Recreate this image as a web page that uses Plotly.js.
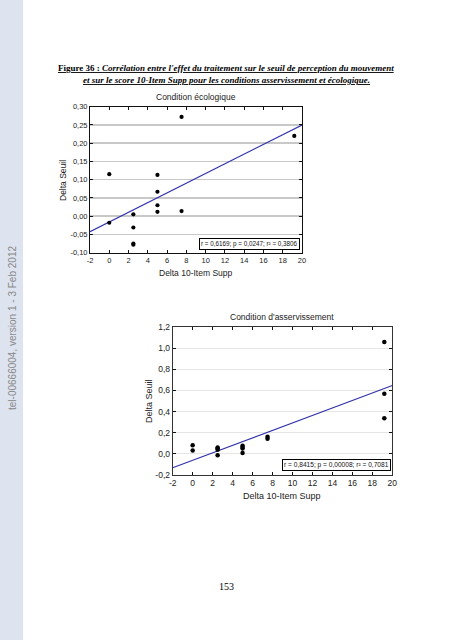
<!DOCTYPE html>
<html><head><meta charset="utf-8">
<script src="https://cdn.plot.ly/plotly-3.0.1.min.js"></script>
<style>html,body{margin:0;padding:0;background:#fff;}#chart{width:453px;height:640px;}</style>
</head><body><div id="chart"></div>
<script>
// ---- data ----
const ecoX = [0, 0, 2.5, 2.5, 2.5, 2.5, 5, 5, 5, 5, 7.5, 7.5, 19.2];
const ecoY = [0.115, -0.018, 0.005, -0.031, -0.075, -0.078, 0.113, 0.067, 0.030, 0.012, 0.272, 0.014, 0.220];
const asvX = [0, 0, 2.5, 2.5, 2.5, 2.5, 5, 5, 5, 5, 7.5, 7.5, 19.2, 19.2, 19.2];
const asvY = [0.080, 0.030, 0.058, 0.048, 0.036, -0.015, 0.076, 0.064, 0.048, 0.006, 0.160, 0.142, 1.06, 0.57, 0.335];

const xTickVals = [-2, 0, 2, 4, 6, 8, 10, 12, 14, 16, 18, 20];
const xTickText = ['-2', '0', '2', '4', '6', '8', '10', '12', '14', '16', '18', '20'];
const ecoYTickVals = [-0.10, -0.05, 0, 0.05, 0.10, 0.15, 0.20, 0.25, 0.30];
const ecoYTickText = ['-0,10', '-0,05', '0,00', '0,05', '0,10', '0,15', '0,20', '0,25', '0,30'];
const asvYTickVals = [-0.2, 0, 0.2, 0.4, 0.6, 0.8, 1.0, 1.2];
const asvYTickText = ['-0,2', '0,0', '0,2', '0,4', '0,6', '0,8', '1,0', '1,2'];

const ecoTitle = 'Condition écologique';
const asvTitle = "Condition d'asservissement";
const ecoStats = 'r = 0,6169; p = 0,0247; r² = 0,3806';
const asvStats = 'r = 0,8415; p = 0,00008; r² = 0,7081';
const xLabel = 'Delta 10-Item Supp';
const yLabel = 'Delta Seuil';
const figLine1 = '<u>Figure 36 : <i>Corrélation entre l\'effet du traitement sur le seuil de perception du mouvement</i></u>';
const figLine2 = '<u><i>et sur le score 10-Item Supp pour les conditions asservissement et écologique.</i></u>';
const sideText = 'tel-00666004, version 1 - 3 Feb 2012';
const pageNum = '153';
const xRange = [-2, 20];

// least squares fit
function fit(xs, ys) {
  const n = xs.length;
  const mx = xs.reduce((a, b) => a + b, 0) / n;
  const my = ys.reduce((a, b) => a + b, 0) / n;
  let sxy = 0, sxx = 0;
  for (let i = 0; i < n; i++) { sxy += (xs[i] - mx) * (ys[i] - my); sxx += (xs[i] - mx) ** 2; }
  const b = sxy / sxx, a = my - b * mx;
  return {x: xRange.slice(), y: xRange.map(v => a + b * v)};
}
const ecoFit = fit(ecoX, ecoY);
const asvFit = fit(asvX, asvY);

const W = 453, H = 640;
const px = v => v / W;
const py = v => 1 - v / H;

const lineCol = '#3333aa';
const traces = [
  {x: ecoFit.x, y: ecoFit.y, mode: 'lines', line: {color: lineCol, width: 1.1}, xaxis: 'x', yaxis: 'y', hoverinfo: 'skip'},
  {x: ecoX, y: ecoY, mode: 'markers', marker: {color: '#000', size: 4.2}, xaxis: 'x', yaxis: 'y'},
  {x: asvFit.x, y: asvFit.y, mode: 'lines', line: {color: lineCol, width: 1.1}, xaxis: 'x2', yaxis: 'y2', hoverinfo: 'skip'},
  {x: asvX, y: asvY, mode: 'markers', marker: {color: '#000', size: 4.5}, xaxis: 'x2', yaxis: 'y2'}
];

const tickFont1 = {family: 'Liberation Sans, Arial, sans-serif', size: 7.5, color: '#222'};
const tickFont2 = {family: 'Liberation Sans, Arial, sans-serif', size: 8.5, color: '#222'};
const axisCommon = {
  showline: true, linecolor: '#111', linewidth: 1, mirror: 'ticks',
  ticks: 'inside', ticklen: 3, tickcolor: '#111', tickwidth: 1,
  zeroline: false, fixedrange: true, tickmode: 'array'
};

const layout = {
  width: W, height: H,
  margin: {l: 0, r: 0, t: 0, b: 0},
  paper_bgcolor: '#fff', plot_bgcolor: '#fff',
  showlegend: false,
  xaxis: Object.assign({}, axisCommon, {domain: [px(90), px(302)], range: xRange, tickvals: xTickVals, ticktext: xTickText, tickfont: tickFont1, showgrid: false, anchor: 'y'}),
  yaxis: Object.assign({}, axisCommon, {domain: [py(252.7), py(106.7)], range: [-0.10, 0.30], tickvals: ecoYTickVals, ticktext: ecoYTickText, tickfont: tickFont1, showgrid: true, gridcolor: '#c8c8c8', gridwidth: 1.5, anchor: 'x'}),
  xaxis2: Object.assign({}, axisCommon, {domain: [px(172.7), px(392.3)], range: xRange, tickvals: xTickVals, ticktext: xTickText, tickfont: tickFont2, showgrid: false, anchor: 'y2', linecolor: '#333'}),
  yaxis2: Object.assign({}, axisCommon, {domain: [py(474.7), py(327.3)], range: [-0.2, 1.2], tickvals: asvYTickVals, ticktext: asvYTickText, tickfont: tickFont2, showgrid: true, gridcolor: '#e6e6e6', gridwidth: 1, anchor: 'x2', linecolor: '#333'}),
  shapes: [
    {type: 'rect', xref: 'paper', yref: 'paper', x0: 0, x1: px(23), y0: 0, y1: 1, fillcolor: '#dde4f0', line: {width: 0}, layer: 'below'}
  ],
  annotations: [
    {text: figLine1, xref: 'paper', yref: 'paper', x: px(226), y: py(68), xanchor: 'center', yanchor: 'middle', showarrow: false,
     font: {family: 'Liberation Serif, Times New Roman, serif', size: 9, color: '#000', weight: 'bold'}},
    {text: figLine2, xref: 'paper', yref: 'paper', x: px(226), y: py(80), xanchor: 'center', yanchor: 'middle', showarrow: false,
     font: {family: 'Liberation Serif, Times New Roman, serif', size: 9, color: '#000', weight: 'bold'}},
    {text: ecoTitle, xref: 'paper', yref: 'paper', x: px(196), y: py(97), xanchor: 'center', yanchor: 'middle', showarrow: false,
     font: {family: 'Liberation Sans, Arial, sans-serif', size: 8.5, color: '#222'}},
    {text: asvTitle, xref: 'paper', yref: 'paper', x: px(282), y: py(317), xanchor: 'center', yanchor: 'middle', showarrow: false,
     font: {family: 'Liberation Sans, Arial, sans-serif', size: 8.5, color: '#222'}},
    {text: xLabel, xref: 'paper', yref: 'paper', x: px(196), y: py(273), xanchor: 'center', yanchor: 'middle', showarrow: false,
     font: {family: 'Liberation Sans, Arial, sans-serif', size: 8.5, color: '#222'}},
    {text: yLabel, xref: 'paper', yref: 'paper', x: px(63), y: py(180), xanchor: 'center', yanchor: 'middle', showarrow: false, textangle: -90,
     font: {family: 'Liberation Sans, Arial, sans-serif', size: 8.5, color: '#222'}},
    {text: xLabel, xref: 'paper', yref: 'paper', x: px(282), y: py(496), xanchor: 'center', yanchor: 'middle', showarrow: false,
     font: {family: 'Liberation Sans, Arial, sans-serif', size: 9, color: '#222'}},
    {text: yLabel, xref: 'paper', yref: 'paper', x: px(149), y: py(401), xanchor: 'center', yanchor: 'middle', showarrow: false, textangle: -90,
     font: {family: 'Liberation Sans, Arial, sans-serif', size: 9, color: '#222'}},
    {text: ecoStats, xref: 'paper', yref: 'paper', x: px(300), y: py(250.5), xanchor: 'right', yanchor: 'bottom', showarrow: false,
     bordercolor: '#000', borderwidth: 1, borderpad: 1, bgcolor: '#fff',
     font: {family: 'Liberation Sans, Arial, sans-serif', size: 6.3, color: '#111'}},
    {text: asvStats, xref: 'paper', yref: 'paper', x: px(390.5), y: py(471), xanchor: 'right', yanchor: 'bottom', showarrow: false,
     bordercolor: '#000', borderwidth: 1, borderpad: 1, bgcolor: '#fff',
     font: {family: 'Liberation Sans, Arial, sans-serif', size: 6.6, color: '#111'}},
    {text: sideText, xref: 'paper', yref: 'paper', x: px(12), y: py(328), xanchor: 'center', yanchor: 'middle', showarrow: false, textangle: -90,
     font: {family: 'Liberation Sans, Arial, sans-serif', size: 10, color: '#888'}},
    {text: pageNum, xref: 'paper', yref: 'paper', x: px(226), y: py(586), xanchor: 'center', yanchor: 'middle', showarrow: false,
     font: {family: 'Liberation Serif, Times New Roman, serif', size: 10, color: '#000'}}
  ]
};

Plotly.newPlot('chart', traces, layout, {staticPlot: true, displayModeBar: false});
</script>
</body></html>
